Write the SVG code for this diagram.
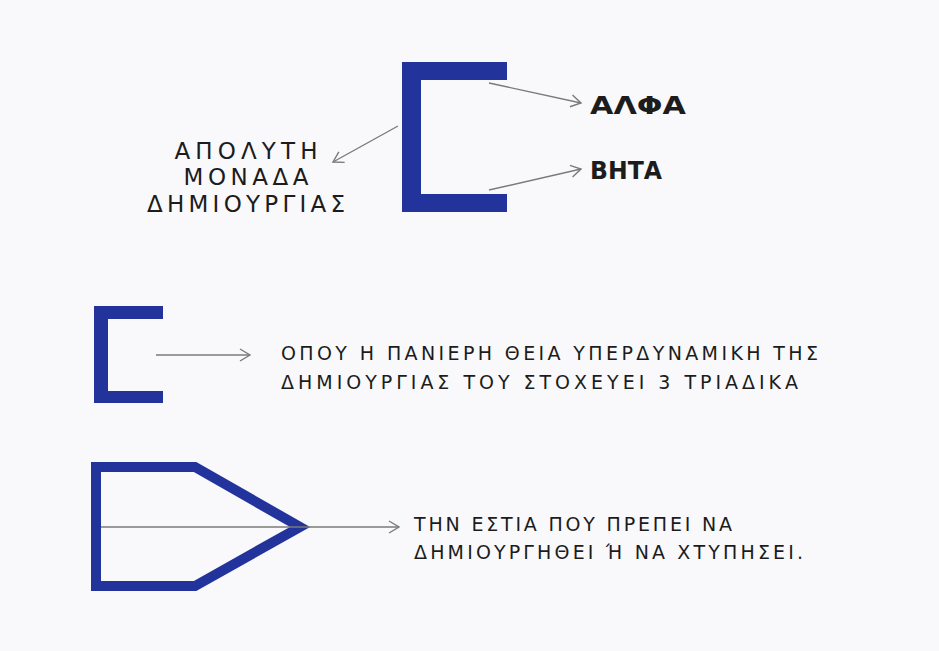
<svg xmlns="http://www.w3.org/2000/svg" width="939" height="651" viewBox="0 0 939 651">
<style>
.bg{fill:#f9f9fb}
.blue{fill:#22339b}
.blues{fill:none;stroke:#22339b;stroke-width:10;stroke-linejoin:miter;stroke-miterlimit:10}
.t{font-family:"DejaVu Sans","Liberation Sans",sans-serif;fill:#1c1c1c}
.big{font-size:23px;text-anchor:middle}
.mid{font-size:19px}
.bold{font-size:24px;font-weight:bold}
.conn{fill:none;stroke:#7a7a7a;stroke-width:1.4}
</style>
<defs>
<marker id="ah" markerUnits="userSpaceOnUse" markerWidth="14" markerHeight="14" viewBox="0 0 14 14" refX="12" refY="7" orient="auto">
<path d="M2,1 L12,7 L2,13" fill="none" stroke="#7a7a7a" stroke-width="1.4"/>
</marker>
</defs>
<rect class="bg" x="0" y="0" width="939" height="651"/>

<g id="bracket-large">
<path class="blue" d="M402,62 H507 V80 H421 V194 H507 V212 H402 Z"/>
</g>
<g id="label-monad">
<text class="t big" x="246" y="159" textLength="143" lengthAdjust="spacing">ΑΠΟΛΥΤΗ</text>
<text class="t big" x="246" y="185" textLength="125" lengthAdjust="spacing">ΜΟΝΑΔΑ</text>
<text class="t big" x="246" y="212" textLength="198" lengthAdjust="spacing">ΔΗΜΙΟΥΡΓΙΑΣ</text>
</g>
<g id="label-alpha">
<text class="t bold" x="590" y="114" textLength="96" lengthAdjust="spacingAndGlyphs">ΑΛΦΑ</text>
</g>
<g id="label-beta">
<text class="t bold" x="590" y="179" textLength="72" lengthAdjust="spacingAndGlyphs">ΒΗΤΑ</text>
</g>

<g id="bracket-small">
<path class="blue" d="M94,306 H163 V319 H108 V391 H163 V403 H94 Z"/>
</g>
<g id="text-middle">
<text class="t mid" x="281" y="360" textLength="537" lengthAdjust="spacing">ΟΠΟΥ Η ΠΑΝΙΕΡΗ ΘΕΙΑ ΥΠΕΡΔΥΝΑΜΙΚΗ ΤΗΣ</text>
<text class="t mid" x="281" y="389" textLength="517" lengthAdjust="spacing">ΔΗΜΙΟΥΡΓΙΑΣ ΤΟΥ ΣΤΟΧΕΥΕΙ 3 ΤΡΙΑΔΙΚΑ</text>
</g>

<g id="pentagon">
<path class="blues" d="M96,467 H195 L300,527 L195,586 H96 Z"/>
</g>
<g id="text-bottom">
<text class="t mid" x="414" y="531" textLength="318" lengthAdjust="spacing">ΤΗΝ ΕΣΤΙΑ ΠΟΥ ΠΡΕΠΕΙ ΝΑ</text>
<text class="t mid" x="414" y="559" textLength="389" lengthAdjust="spacing">ΔΗΜΙΟΥΡΓΗΘΕΙ Ή ΝΑ ΧΤΥΠΗΣΕΙ.</text>
</g>

<g id="connectors">
<line class="conn" x1="398" y1="126" x2="333" y2="162" marker-end="url(#ah)"/>
<line class="conn" x1="489" y1="83" x2="581" y2="103" marker-end="url(#ah)"/>
<line class="conn" x1="489" y1="190" x2="581" y2="169" marker-end="url(#ah)"/>
<line class="conn" x1="156" y1="355" x2="250" y2="355" marker-end="url(#ah)"/>
<line class="conn" x1="101" y1="527" x2="399" y2="527" marker-end="url(#ah)"/>
</g>
</svg>
